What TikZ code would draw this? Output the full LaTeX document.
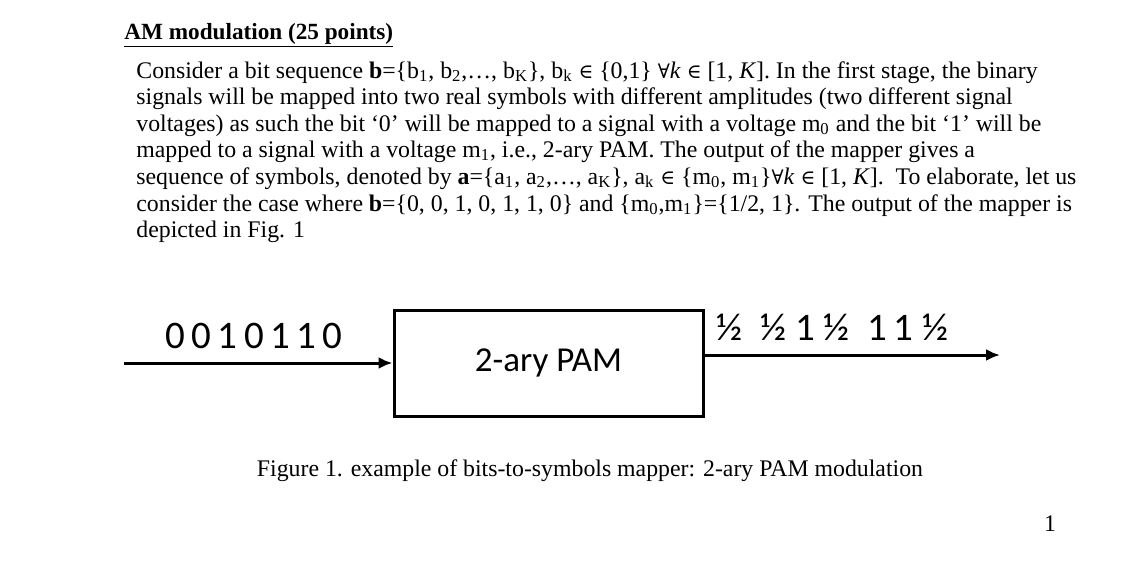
\documentclass[tikz,border=0pt]{standalone}
\usepackage{fontspec}
\usetikzlibrary{arrows.meta}
\setmainfont{Liberation Serif}
\newfontfamily\carfont{Carlito}
\newfontfamily\symfont{DejaVu Serif}
\newcommand{\sbs}[1]{\textsubscript{#1}}
\newcommand{\fa}{{\symfont\fontsize{10}{12}\selectfont ∀}}
\newcommand{\el}{{\symfont\fontsize{10}{12}\selectfont ∈}}
\begin{document}
\begin{tikzpicture}[x=0.5pt,y=-0.5pt,
  para/.style={anchor=base west,inner sep=0,font=\fontsize{11.9}{12}\selectfont},
  wire/.style={line width=1.5pt,-{Latex[length=7pt,width=6pt]}}]
\useasboundingbox (0,0) rectangle (1136,574);
\node[anchor=base west,inner sep=0,font=\fontsize{11.6}{12}\selectfont\bfseries] (h) at (124,39) {\underline{AM modulation (25 points)}};
\node[para] (l1) at (136,78) {Consider a bit sequence \textbf{b}=\{b\sbs1, b\sbs2,…, b\sbs K\}, b\sbs k \el{} \{0,1\} \fa\textit{k} \el{} [1, \textit{K}]. In the first stage, the binary};
\node[para] (l2) at (136,104) {signals will be mapped into two real symbols with different amplitudes (two different signal};
\node[para] (l3) at (136,131) {voltages) as such the bit ‘0’ will be mapped to a signal with a voltage m\sbs0 and the bit ‘1’ will be};
\node[para] (l4) at (136,157) {mapped to a signal with a voltage m\sbs1, i.e., 2-ary PAM. The output of the mapper gives a};
\node[para] (l5) at (136,184) {sequence of symbols, denoted by \textbf{a}=\{a\sbs1, a\sbs2,…, a\sbs K\}, a\sbs k \el{} \{m\sbs0, m\sbs1\}\fa\textit{k} \el{} [1, \textit{K}].~ To elaborate, let us};
\node[para] (l6) at (136,211) {consider the case where \textbf{b}=\{0, 0, 1, 0, 1, 1, 0\} and \{m\sbs0,m\sbs1\}=\{1/2, 1\}. The output of the mapper is};
\node[para] (l7) at (136,237) {depicted in Fig. 1};
\node[draw,line width=1.5pt,minimum width=154.5pt,minimum height=53pt,inner sep=0,font=\carfont\fontsize{17.5}{20}\selectfont] (pam) at (548.5,363) {2-ary PAM};
\coordinate (in) at (124,363);
\coordinate (out) at (1000,355);
\draw[wire] (in) -- (pam.west);
\draw[wire] (pam.east |- out) -- (out);
\node[anchor=base,inner sep=0,font=\carfont\fontsize{19.5}{20}\selectfont] (bits) at (254,348) {0\,0\,1\,0\,1\,1\,0};
\node[anchor=base west,inner sep=0,font=\carfont\fontsize{19.5}{20}\selectfont] (syms) at (716,340) {½~~½~1~½~~1\,1~½};
\node[anchor=base,inner sep=0,font=\fontsize{11.9}{12}\selectfont] (cap) at (590,476) {Figure 1. example of bits-to-symbols mapper: 2-ary PAM modulation};
\node[anchor=base,inner sep=0,font=\fontsize{11.9}{12}\selectfont] (pg) at (1050,531) {1};
\end{tikzpicture}
\end{document}
